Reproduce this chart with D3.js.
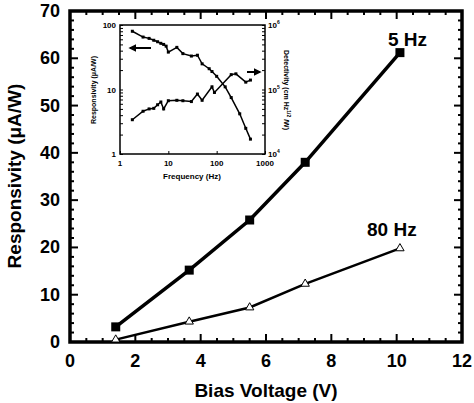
<!DOCTYPE html>
<html><head><meta charset="utf-8">
<script src="https://cdn.jsdelivr.net/npm/d3@7"></script>
<style>body{margin:0;background:#fff}text{font-family:"Liberation Sans",Arial,sans-serif;font-weight:bold}</style>
</head><body><svg id="c" width="474" height="403"></svg>
<script>
// main data
var voltage = [1.4, 3.65, 5.5, 7.2, 10.1];
var resp5 = [3.2, 15.2, 25.8, 38, 61.2];
var resp80 = [0.5, 4.3, 7.3, 12.3, 19.8];
// inset data
var fResp = [1.8, 3, 4, 5, 6, 7, 8, 9, 10, 15, 20, 30, 40, 50, 70, 80, 100, 150, 200, 300, 400, 500];
var respF = [80, 65, 62, 58, 55, 52, 50, 47, 38, 45, 36, 33, 34, 25, 21, 19, 16, 11, 7.5, 4.2, 2.5, 1.7];
var fDet = [1.8, 3, 4, 5, 6, 7, 8, 10, 15, 20, 30, 40, 50, 80, 90, 200, 250, 400, 500];
var detF = [3.4e4, 4.6e4, 5e4, 5.1e4, 5.8e4, 6.4e4, 5e4, 6.7e4, 6.8e4, 6.7e4, 6.5e4, 8.5e4, 6.8e4, 1.1e5, 9e4, 1.7e5, 1.75e5, 1.3e5, 1.4e5];

var svg = d3.select("#c");
var x = d3.scaleLinear().domain([0, 12]).range([70, 462]);
var y = d3.scaleLinear().domain([0, 70]).range([342, 11]);

svg.append("rect").attr("x", 70).attr("y", 11).attr("width", 392).attr("height", 331)
  .attr("fill", "none").attr("stroke", "#000").attr("stroke-width", 3.5);

// minor ticks
d3.range(0, 12.01, 0.5).forEach(function(v){
  var L = v % 2 == 0 ? 8 : 4;
  svg.append("line").attr("x1", x(v)).attr("x2", x(v)).attr("y1", 342).attr("y2", 342 - L).attr("stroke", "#000").attr("stroke-width", 2);
  svg.append("line").attr("x1", x(v)).attr("x2", x(v)).attr("y1", 11).attr("y2", 11 + L).attr("stroke", "#000").attr("stroke-width", 2);
});
d3.range(0, 70.01, 2).forEach(function(v){
  var L = v % 10 == 0 ? 8 : 4;
  svg.append("line").attr("x1", 70).attr("x2", 70 + L).attr("y1", y(v)).attr("y2", y(v)).attr("stroke", "#000").attr("stroke-width", 2);
  svg.append("line").attr("x1", 462).attr("x2", 462 - L).attr("y1", y(v)).attr("y2", y(v)).attr("stroke", "#000").attr("stroke-width", 2);
});
d3.range(0, 13, 2).forEach(function(v){
  svg.append("text").attr("x", x(v)).attr("y", 367).attr("text-anchor", "middle").attr("font-size", 18).text(v);
});
d3.range(0, 71, 10).forEach(function(v){
  svg.append("text").attr("x", 60).attr("y", y(v) + 6).attr("text-anchor", "end").attr("font-size", 18).text(v);
});
svg.append("text").attr("x", 266).attr("y", 397).attr("text-anchor", "middle").attr("font-size", 19).text("Bias Voltage (V)");
svg.append("text").attr("transform", "translate(21,176) rotate(-90)").attr("text-anchor", "middle").attr("font-size", 19).text("Responsivity (\u03bcA/W)");

var line = function(ys){ return d3.line().x(function(d, i){ return x(voltage[i]); }).y(function(d){ return y(d); })(ys); };
svg.append("path").attr("d", line(resp5)).attr("fill", "none").attr("stroke", "#000").attr("stroke-width", 3.5);
svg.append("path").attr("d", line(resp80)).attr("fill", "none").attr("stroke", "#000").attr("stroke-width", 2.5);
svg.selectAll(".sq").data(resp5).enter().append("rect").attr("x", function(d, i){ return x(voltage[i]) - 4.5; })
  .attr("y", function(d){ return y(d) - 4.5; }).attr("width", 9).attr("height", 9).attr("fill", "#000");
svg.selectAll(".tr").data(resp80).enter().append("path").attr("d", d3.symbol(d3.symbolTriangle, 30)())
  .attr("transform", function(d, i){ return "translate(" + x(voltage[i]) + "," + y(d) + ")"; })
  .attr("fill", "#fff").attr("stroke", "#000").attr("stroke-width", 1);
svg.append("text").attr("x", 388).attr("y", 46).attr("font-size", 19).text("5 Hz");
svg.append("text").attr("x", 367).attr("y", 236).attr("font-size", 19).text("80 Hz");

// inset
var ix = d3.scaleLog().domain([1, 1000]).range([120, 265]);
var iy = d3.scaleLog().domain([1, 100]).range([154, 25]);
var iy2 = d3.scaleLog().domain([1e4, 1e6]).range([154, 25]);
svg.append("rect").attr("x", 120).attr("y", 25).attr("width", 145).attr("height", 129).attr("fill", "none").attr("stroke", "#000").attr("stroke-width", 1.5);
var g = svg.append("g");
g.append("g").attr("transform", "translate(0,154)").call(d3.axisTop(ix).ticks(3).tickSize(3).tickFormat(""));
g.append("g").attr("transform", "translate(120,0)").call(d3.axisRight(iy).tickSize(3).tickFormat(""));
g.append("g").attr("transform", "translate(265,0)").call(d3.axisLeft(iy2).tickSize(3).tickFormat(""));
g.selectAll(".domain").remove();
[1, 10, 100, 1000].forEach(function(v){
  svg.append("text").attr("x", ix(v)).attr("y", 166).attr("text-anchor", "middle").attr("font-size", 8).text(v);
});
[1, 10, 100].forEach(function(v){
  svg.append("text").attr("x", 116).attr("y", iy(v) + 3).attr("text-anchor", "end").attr("font-size", 8).text(v);
});
[4, 5, 6].forEach(function(e){
  var t = svg.append("text").attr("x", 268).attr("y", iy2(Math.pow(10, e)) + 3).attr("font-size", 8).text("10");
  t.append("tspan").attr("dy", -4).attr("font-size", 5).text(e);
});
svg.append("text").attr("x", 192).attr("y", 179).attr("text-anchor", "middle").attr("font-size", 8).text("Frequency (Hz)");
svg.append("text").attr("transform", "translate(96,90) rotate(-90)").attr("text-anchor", "middle").attr("font-size", 7).text("Responsivity (\u03bcA/W)");
var dl = svg.append("text").attr("transform", "translate(284,90) rotate(90)").attr("text-anchor", "middle").attr("font-size", 7).text("Detectivity (cm Hz");
dl.append("tspan").attr("dy", -3).attr("font-size", 5).text("1/2");
dl.append("tspan").attr("dy", 3).text(" /W)");

svg.append("path").attr("d", d3.line().x(function(d, i){ return ix(fResp[i]); }).y(function(d){ return iy(d); })(respF))
  .attr("fill", "none").attr("stroke", "#000").attr("stroke-width", 1.5);
svg.append("path").attr("d", d3.line().x(function(d, i){ return ix(fDet[i]); }).y(function(d){ return iy2(d); })(detF))
  .attr("fill", "none").attr("stroke", "#000").attr("stroke-width", 1.5);
svg.selectAll(".ir").data(respF).enter().append("rect").attr("x", function(d, i){ return ix(fResp[i]) - 1.5; })
  .attr("y", function(d){ return iy(d) - 1.5; }).attr("width", 3).attr("height", 3);
svg.selectAll(".id").data(detF).enter().append("rect").attr("x", function(d, i){ return ix(fDet[i]) - 1.5; })
  .attr("y", function(d){ return iy2(d) - 1.5; }).attr("width", 3).attr("height", 3);

// arrows
svg.append("defs").append("marker").attr("id", "ah").attr("viewBox", "0 0 10 10").attr("refX", 8).attr("refY", 5)
  .attr("markerWidth", 4).attr("markerHeight", 4).attr("orient", "auto").append("path").attr("d", "M0,0L10,5L0,10z");
svg.append("line").attr("x1", 151).attr("y1", 48).attr("x2", 130).attr("y2", 48).attr("stroke", "#000").attr("stroke-width", 2).attr("marker-end", "url(#ah)");
svg.append("line").attr("x1", 247).attr("y1", 72).attr("x2", 260).attr("y2", 72).attr("stroke", "#000").attr("stroke-width", 2).attr("marker-end", "url(#ah)");
</script></body></html>
